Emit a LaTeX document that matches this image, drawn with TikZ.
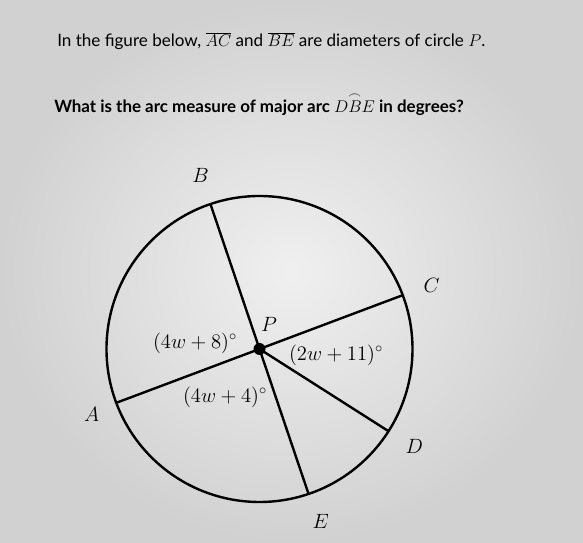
\RequirePackage{fix-cm}
\documentclass[tikz,border=0pt]{standalone}
\usepackage{fontspec}
\setmainfont{Lato}
\usepackage{amsmath,amssymb}
\usepackage{tikz}
\usetikzlibrary{positioning,calc}

\begin{document}
\begin{tikzpicture}[x=0.75pt,y=0.75pt,
  radius line/.style={line width=1.8pt, color=black},
  point label/.style={font=\fontsize{15.5}{18}\selectfont, inner sep=0pt},
  angle label/.style={font=\fontsize{15.5}{18}\selectfont, inner sep=0pt},
  question/.style={anchor=base west, inner sep=0pt, font=\fontsize{12.8}{15}\selectfont}]

% screen background
\shade[inner color=gray!12, outer color=gray!36] (0,0) rectangle (583,543);
\useasboundingbox (0,0) rectangle (583,543);

% question text
\node[question] (line1) at (57,496) {In the figure below, $\overline{AC}$ and $\overline{BE}$ are diameters of circle $P$.};
\node[question, font=\fontsize{12.7}{15}\selectfont\bfseries] (line2) at (54,430) {What is the arc measure of major arc $\overset{\frown}{DBE}$ in degrees?};

% circle P
\coordinate (P) at (259.5,194);
\draw[radius line] (P) circle[radius=153];
\coordinate (B) at ($(P)+(108.7:153)$);
\coordinate (E) at ($(P)+(288.7:153)$);
\coordinate (A) at ($(P)+(200.6:153)$);
\coordinate (C) at ($(P)+(20.6:153)$);
\coordinate (D) at ($(P)+(327.5:153)$);

\draw[radius line] (A) -- (C);
\draw[radius line] (B) -- (E);
\draw[radius line] (P) -- (D);
\fill (P) circle[radius=6];

% labels
\node[point label] (lB) at (200.7,368) {$B$};
\node[point label] (lC) at (431.7,258) {$C$};
\node[point label] (lA) at (91.7,129) {$A$};
\node[point label] (lD) at (414.3,97) {$D$};
\node[point label] (lE) at (320.7,22) {$E$};
\node[point label] (lP) at (269,219) {$P$};

\node[angle label] (ang1) at (195,200) {$(4w+8)^\circ$};
\node[angle label] (ang2) at (336,188) {$(2w+11)^\circ$};
\node[angle label] (ang3) at (225,146) {$(4w+4)^\circ$};
\end{tikzpicture}
\end{document}
